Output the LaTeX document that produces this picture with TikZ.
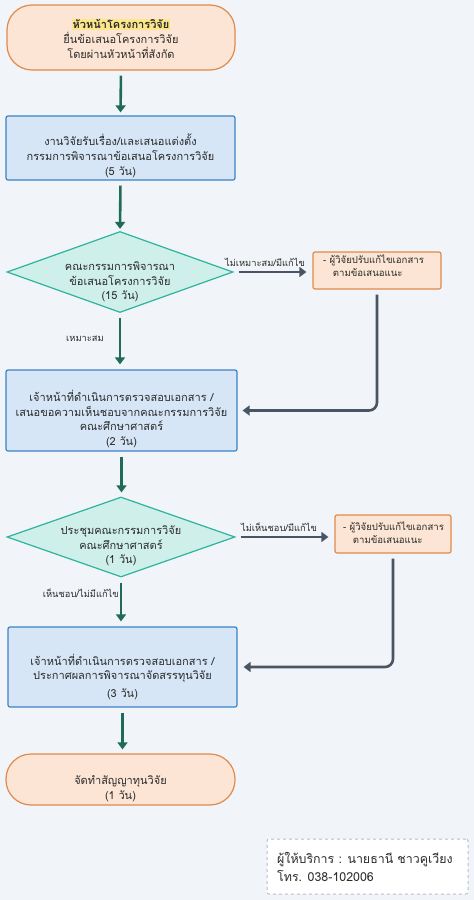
\documentclass[tikz,border=0pt]{standalone}
\usepackage{fontspec}
\newfontfamily\thai[Script=Thai]{Loma}
\usetikzlibrary{shapes.geometric,arrows.meta}
\definecolor{bg}{HTML}{F1F5F9}
\definecolor{peach}{HTML}{FCE5D4}
\definecolor{orangeb}{HTML}{E08A4C}
\definecolor{bluef}{HTML}{D6E6F6}
\definecolor{blueb}{HTML}{3C82C4}
\definecolor{tealf}{HTML}{CFF0EA}
\definecolor{tealb}{HTML}{2DB39E}
\definecolor{greena}{HTML}{1F6B58}
\definecolor{graya}{HTML}{4A5563}
\definecolor{txt}{HTML}{2B2B2B}
\definecolor{hl}{HTML}{FDE68A}
\definecolor{dashc}{HTML}{B8BEC6}
\begin{document}
\begin{tikzpicture}[x=1pt,y=-1pt,
  base/.style={font=\thai\fontsize{11}{14.7}\selectfont, text=txt, align=center, inner sep=0pt},
  term/.style={draw=orangeb, fill=peach, line width=1.2pt, rounded corners=25pt, minimum width=228pt, inner sep=0pt},
  procbox/.style={draw=blueb, fill=bluef, line width=1.2pt, rounded corners=2pt, minimum width=230pt, inner sep=0pt},
  decis/.style={diamond, draw=tealb, fill=tealf, line width=1.2pt, inner sep=0pt, minimum width=226pt, minimum height=81pt, aspect=2.8},
  sidebox/.style={draw=orangeb, fill=peach, line width=1.2pt, rounded corners=2pt, inner sep=0pt},
  sidetext/.style={base, align=left, anchor=north west, font=\thai\fontsize{9.6}{12.8}\selectfont},
  lbl/.style={base, font=\thai\fontsize{9.3}{11}\selectfont},
  garrow/.style={draw=greena, line width=2.6pt, -{Triangle[width=10pt,length=7pt]}},
  darrow/.style={draw=graya, line width=2.6pt, -{Triangle[width=10pt,length=7pt]}, rounded corners=8pt}
]
\fill[bg] (0,0) rectangle (474,900);
\useasboundingbox (0,0) rectangle (474,900);

% terminal 1
\node[term, minimum height=65pt] (t1) at (121,37.5) {};
\node[base] (t1t) at ([yshift=-1pt]t1.center)
  {{\setlength{\fboxsep}{1pt}\colorbox{hl}{\bfseries หัวหน้าโครงการวิจัย}}\\ยื่นข้อเสนอโครงการวิจัย\\โดยผ่านหัวหน้าที่สังกัด};

% box 2
\node[procbox, minimum width=229pt, minimum height=64pt] (b2) at (120.5,148) {};
\node[base] (b2t) at ([yshift=-8pt]b2.center)
  {งานวิจัยรับเรื่อง/และเสนอแต่งตั้ง\\กรรมการพิจารณาข้อเสนอโครงการวิจัย\\(5 วัน)};

% decision 1
\node[decis] (d1) at (120,272) {};
\node[base] (d1t) at ([yshift=-10pt]d1.center) {คณะกรรมการพิจารณา\\ข้อเสนอโครงการวิจัย\\(15 วัน)};

% side box 1
\node[sidebox, minimum width=128pt, minimum height=37pt] (s1) at (377,270.5) {};
\node[sidetext] (s1t) at (323,255)
  {- ผู้วิจัยปรับแก้ไขเอกสาร\\\ \ \ ตามข้อเสนอแนะ};

% box 4
\node[procbox, minimum width=231pt, minimum height=81pt] (b4) at (121.5,410.5) {};
\node[base] (b4t) at ([yshift=-8.5pt]b4.center)
  {เจ้าหน้าที่ดำเนินการตรวจสอบเอกสาร /\\เสนอขอความเห็นชอบจากคณะกรรมการวิจัย\\คณะศึกษาศาสตร์\\(2 วัน)};

% decision 2
\node[decis, minimum width=228pt, minimum height=80pt] (d2) at (121,537) {};
\node[base] (d2t) at ([yshift=-9pt]d2.center) {ประชุมคณะกรรมการวิจัย\\คณะศึกษาศาสตร์\\(1 วัน)};

% side box 2
\node[sidebox, minimum width=116pt, minimum height=38pt] (s2) at (393,534) {};
\node[sidetext] (s2t) at (343,522)
  {- ผู้วิจัยปรับแก้ไขเอกสาร\\\ \ \ ตามข้อเสนอแนะ};

% box 6
\node[procbox, minimum width=229pt, minimum height=80pt] (b6) at (122.5,667) {};
\node[base] (b6t) at ([yshift=-10pt]b6.center)
  {เจ้าหน้าที่ดำเนินการตรวจสอบเอกสาร /\\ประกาศผลการพิจารณาจัดสรรทุนวิจัย\\[3.5pt](3 วัน)};

% terminal 7
\node[term, minimum width=229pt, minimum height=51pt] (t7) at (120.5,779.5) {};
\node[base] (t7t) at ([yshift=-9pt]t7.center) {จัดทำสัญญาทุนวิจัย\\(1 วัน)};

% footer
\node[draw=dashc, dashed, fill=white, line width=1pt, rounded corners=2pt, minimum width=201pt, minimum height=55pt, inner sep=0pt] (ft) at (367.5,866.5) {};
\node[base, align=left, anchor=west, font=\thai\fontsize{12.4}{18}\selectfont] (ftt) at (277,867)
  {ผู้ให้บริการ : นายธานี ชาวคูเวียง\\โทร. 038-102006};

% connectors
\draw[garrow, shorten <=5pt, shorten >=3pt] (t1.south) -- (b2.north);
\draw[garrow, shorten <=5pt, shorten >=2pt] (b2.south) -- (d1.north);
\draw[garrow, shorten <=5pt, shorten >=5pt] (d1.south) -- node[lbl, pos=0.45, left=15pt] (l1) {เหมาะสม} (b4.north -| d1.south);
\draw[garrow, shorten <=5pt, shorten >=4pt] (b4.south) -- (d2.north -| b4.south);
\draw[garrow, shorten <=5pt, shorten >=5pt] (d2.south) -- node[lbl, pos=0.33, left=1pt] (l2) {เห็นชอบ/ไม่มีแก้ไข} (b6.north -| d2.south);
\draw[garrow, shorten <=5pt, shorten >=4pt] (b6.south) -- (t7.north -| b6.south);

\draw[darrow, shorten <=5pt, shorten >=6pt] (d1.east) -- node[lbl, above=4pt, xshift=-8pt] (l3) {ไม่เหมาะสม/มีแก้ไข} (s1.west |- d1.east);
\draw[darrow, shorten <=5pt, shorten >=6pt] (d2.east) -- node[lbl, above=4pt, xshift=-6pt] (l4) {ไม่เห็นชอบ/มีแก้ไข} (s2.west |- d2.east);
\draw[darrow, shorten <=5pt, shorten >=5pt] (s1.south) |- (b4.east);
\draw[darrow, shorten <=5pt, shorten >=6pt] (s2.south) |- (b6.east);
\end{tikzpicture}
\end{document}
